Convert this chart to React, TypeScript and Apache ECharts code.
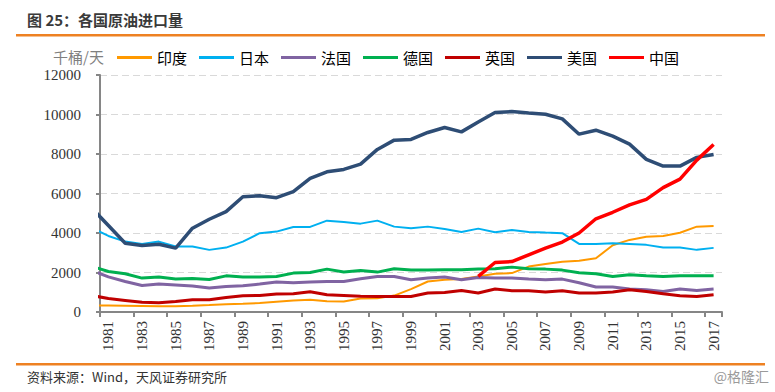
import React, { useEffect, useRef } from "react";
import * as echarts from "echarts";

// Year of every plotted value. The 1980 value sits half a category left of the
// axis and is clipped by the grid, so only its slope into 1981 shows.
const YEARS = [
  1980, 1981, 1982, 1983, 1984, 1985, 1986, 1987, 1988, 1989,
  1990, 1991, 1992, 1993, 1994, 1995, 1996, 1997, 1998, 1999,
  2000, 2001, 2002, 2003, 2004, 2005, 2006, 2007, 2008, 2009,
  2010, 2011, 2012, 2013, 2014, 2015, 2016, 2017,
];

// Category labels on the x axis (1981–2017)
const YEAR_LABELS = YEARS.slice(1).map(String);

// Crude oil imports, thousand barrels per day, 1980–2017
const INDIA = [
  335, 330, 320, 310, 285, 290, 320, 353, 390, 420,
  455, 520, 580, 620, 540, 535, 680, 690, 830, 1160,
  1545, 1630, 1666, 1800, 1935, 1970, 2300, 2425, 2540, 2590,
  2720, 3380, 3650, 3815, 3850, 4010, 4320, 4355,
];
const JAPAN = [
  4260, 3850, 3565, 3449, 3565, 3313, 3313, 3146, 3262, 3565,
  3990, 4070, 4307, 4307, 4626, 4560, 4474, 4626, 4323, 4242,
  4323, 4207, 4055, 4222, 4040, 4156, 4055, 4020, 3990, 3449,
  3449, 3485, 3449, 3399, 3262, 3262, 3146, 3247,
];
const FRANCE = [
  2100, 1780, 1545, 1343, 1414, 1364, 1313, 1212, 1293, 1328,
  1414, 1515, 1480, 1515, 1545, 1545, 1682, 1798, 1798, 1631,
  1717, 1767, 1631, 1747, 1717, 1717, 1666, 1631, 1666, 1480,
  1263, 1263, 1161, 1126, 1040, 1161, 1091, 1161,
];
const GERMANY = [
  2320, 2050, 1934, 1717, 1767, 1666, 1697, 1646, 1830, 1767,
  1767, 1798, 1969, 2000, 2170, 2030, 2100, 2020, 2187, 2121,
  2121, 2136, 2136, 2171, 2187, 2272, 2187, 2171, 2121, 1990,
  1934, 1798, 1884, 1833, 1798, 1833, 1833, 1833,
];
const UK = [
  840, 680, 586, 490, 470, 535, 621, 621, 737, 823,
  838, 909, 924, 1025, 874, 840, 800, 790, 790, 788,
  960, 990, 1091, 960, 1161, 1076, 1076, 1010, 1076, 960,
  960, 1010, 1126, 1040, 924, 823, 788, 874,
];
const USA = [
  5270, 4378, 3485, 3363, 3434, 3232, 4242, 4696, 5080, 5838,
  5889, 5787, 6090, 6767, 7100, 7220, 7489, 8231, 8701, 8737,
  9090, 9342, 9120, 9625, 10100, 10150, 10080, 10014, 9777, 9004,
  9206, 8903, 8499, 7726, 7388, 7388, 7828, 7979,
];
const CHINA = [
  null, null, null, null, null, null, null, null, null, null,
  null, null, null, null, null, null, null, null, null, null,
  null, null, null, 1800, 2505, 2555, 2894, 3232, 3540, 4000,
  4720, 5050, 5420, 5700, 6300, 6730, 7690, 8480,
];

const Y_MIN = 0;
const Y_MAX = 12000;
const Y_STEP = 2000;

const SERIES_DEFS = [
  { name: "印度", values: INDIA, color: "#FF9900", width: 2 },
  { name: "日本", values: JAPAN, color: "#00B0F0", width: 2 },
  { name: "法国", values: FRANCE, color: "#8064A2", width: 3 },
  { name: "德国", values: GERMANY, color: "#00B050", width: 3 },
  { name: "英国", values: UK, color: "#C00000", width: 3 },
  { name: "美国", values: USA, color: "#2E4D75", width: 3.5 },
  { name: "中国", values: CHINA, color: "#FF0000", width: 3.5 },
];

const CJK = '"Noto Sans CJK SC", "Noto Sans", sans-serif';
const SERIF = '"Liberation Serif", "DejaVu Serif", serif';
const ORANGE = "#EE8122";
const AXIS_GRAY = "#868686";

export default function App() {
  const ref = useRef<HTMLDivElement>(null);

  useEffect(() => {
    document.body.style.margin = "0";
    if (!ref.current) return;
    const chart = echarts.init(ref.current, null, { renderer: "svg" });

    const series = SERIES_DEFS.map((s) => ({
      name: s.name,
      type: "line",
      xAxisIndex: 1,
      yAxisIndex: 0,
      data: YEARS.map((y, i) => [y, s.values[i]]).filter((p) => p[1] != null),
      showSymbol: false,
      symbol: "none",
      clip: true,
      color: s.color,
      lineStyle: { color: s.color, width: s.width },
      emphasis: { disabled: true },
    }));

    chart.setOption({
      animation: false,
      backgroundColor: "#ffffff",
      grid: { left: 100, right: 53, top: 75, bottom: 80, containLabel: false },
      legend: {
        left: 117,
        top: 50,
        padding: 0,
        icon: "rect",
        itemWidth: 35,
        itemHeight: 3,
        itemGap: 12,
        textStyle: { fontFamily: CJK, fontSize: 15, color: "#000000", padding: [0, 0, 0, 0] },
        data: SERIES_DEFS.map((s) => s.name),
      },
      xAxis: [
        {
          type: "category",
          data: YEAR_LABELS,
          boundaryGap: true,
          axisLine: { lineStyle: { color: AXIS_GRAY, width: 2 } },
          axisTick: { show: true, interval: 1, length: 5, lineStyle: { color: AXIS_GRAY, width: 2 } },
          axisLabel: {
            interval: 1,
            rotate: 90,
            margin: 9,
            fontFamily: SERIF,
            fontSize: 15,
            color: "#333333",
          },
          splitLine: { show: false },
        },
        {
          type: "value",
          min: 1980.5,
          max: 2017.5,
          show: false,
          splitLine: { show: false },
        },
      ],
      yAxis: {
        type: "value",
        min: Y_MIN,
        max: Y_MAX,
        interval: Y_STEP,
        axisLine: { show: true, lineStyle: { color: AXIS_GRAY, width: 2 } },
        axisTick: { show: true, length: 4, lineStyle: { color: AXIS_GRAY, width: 2 } },
        axisLabel: {
          margin: 19,
          fontFamily: SERIF,
          fontSize: 15,
          color: "#333333",
          formatter: (v: number) => String(v),
        },
        splitLine: { show: true, lineStyle: { color: "#D9D9D9", width: 1, type: [7, 4] } },
      },
      graphic: [
        {
          type: "text",
          left: 27,
          top: 12,
          style: {
            text: "图 25：各国原油进口量",
            font: `bold 15px ${CJK}`,
            fill: "#3A3A3A",
          },
        },
        { type: "rect", shape: { x: 16, y: 34, width: 749, height: 2.5 }, style: { fill: ORANGE } },
        {
          type: "text",
          left: 53,
          top: 49,
          style: { text: "千桶/天", font: `15px ${CJK}`, fill: "#7F7F7F" },
        },
        { type: "rect", shape: { x: 16, y: 363, width: 749, height: 2.5 }, style: { fill: ORANGE } },
        {
          type: "text",
          left: 27,
          top: 370,
          style: { text: "资料来源：Wind，天风证券研究所", font: `13px ${CJK}`, fill: "#333333" },
        },
        {
          type: "text",
          right: 6,
          top: 369,
          style: { text: "@格隆汇", font: `14px ${CJK}`, fill: "#9A9A9A" },
        },
      ],
      series,
    });

    return () => chart.dispose();
  }, []);

  return <div ref={ref} style={{ width: 775, height: 392 }} />;
}
